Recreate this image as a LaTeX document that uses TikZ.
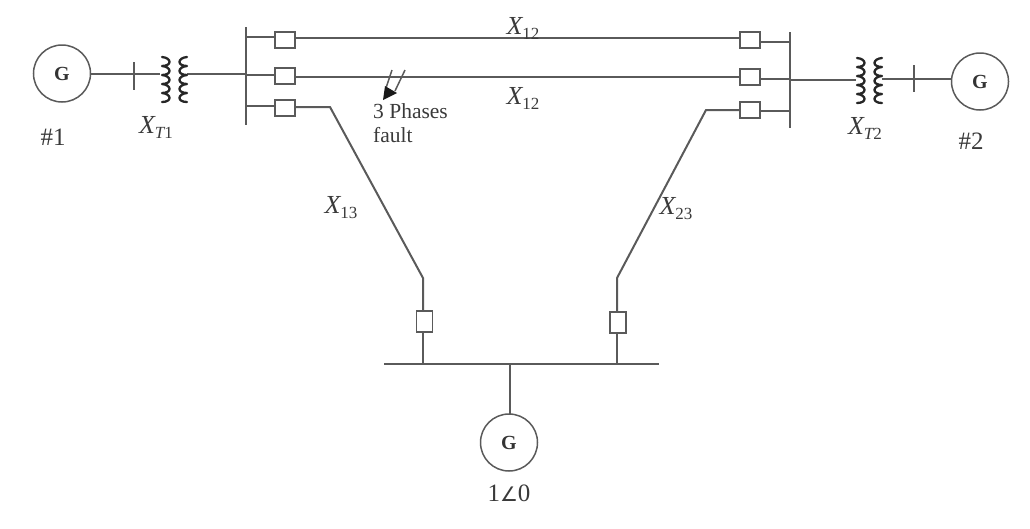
\documentclass[tikz,border=0pt]{standalone}
\usepackage{fontspec}
\setmainfont{Liberation Serif}
\newfontfamily\angfont{DejaVu Sans}
\definecolor{ln}{HTML}{5A5A5A}
\definecolor{tx}{HTML}{3A3A3A}
\tikzset{
  x=1pt,y=-1pt,
  wire/.style={draw=ln,line width=2pt},
  busbar/.style={draw=ln,line width=2pt},
  gen/.style={circle,draw=ln,line width=1.5pt,minimum size=57pt,inner sep=0pt,font=\fontsize{20}{20}\selectfont\bfseries,text=black!80},
  brk/.style={rectangle,draw=ln,line width=1.8pt,fill=white,minimum width=20pt,minimum height=16pt,inner sep=0pt},
  vbrk/.style={brk,minimum width=16pt,minimum height=21pt},
  lbl/.style={font=\fontsize{25}{27}\selectfont,text=tx,inner sep=0pt},
  xlbl/.style={font=\fontsize{26}{27}\selectfont\itshape,text=tx,inner sep=0pt},
  coil/.style={draw=black!85,line width=2.3pt,line cap=round,line join=round},
}
\newcommand{\xsub}[2]{X\raisebox{-5pt}{\fontsize{17}{17}\selectfont #1\upshape #2}}
\newcommand{\lcoil}[2]{%
  \draw[coil] (#1,#2) .. controls (#1+10,#2+1) and (#1+10,#2+9) .. (#1,#2+9)
   .. controls (#1+10,#2+10) and (#1+10,#2+18) .. (#1,#2+18)
   .. controls (#1+10,#2+19) and (#1+10,#2+27) .. (#1,#2+27)
   .. controls (#1+10,#2+28) and (#1+10,#2+36) .. (#1,#2+36)
   .. controls (#1+10,#2+37) and (#1+10,#2+45) .. (#1,#2+45);}
\newcommand{\rcoil}[2]{%
  \draw[coil] (#1,#2) .. controls (#1-10,#2+1) and (#1-10,#2+9) .. (#1,#2+9)
   .. controls (#1-10,#2+10) and (#1-10,#2+18) .. (#1,#2+18)
   .. controls (#1-10,#2+19) and (#1-10,#2+27) .. (#1,#2+27)
   .. controls (#1-10,#2+28) and (#1-10,#2+36) .. (#1,#2+36)
   .. controls (#1-10,#2+37) and (#1-10,#2+45) .. (#1,#2+45);}
\begin{document}
\begin{tikzpicture}
\useasboundingbox (0,0) rectangle (1030,528);
% generators
\node[gen] (g1) at (62,73.5) {G};
\node[gen] (g2) at (980,81.5) {G};
\node[gen] (g3) at (509,442.5) {G};
% breakers
\node[brk] (b11) at (285,40) {};
\node[brk] (b12) at (285,76) {};
\node[brk] (b13) at (285,108) {};
\node[brk] (b21) at (750,40) {};
\node[brk] (b22) at (750,77) {};
\node[brk] (b23) at (750,110) {};
\node[vbrk] (b31) at (424.5,321.5) {};
\node[vbrk] (b32) at (618,322.5) {};
% coordinates
\coordinate (bus1a) at (246,27);\coordinate (bus1b) at (246,125);
\coordinate (bus2a) at (790,32);\coordinate (bus2b) at (790,128);
\coordinate (bus3a) at (384,364);\coordinate (bus3b) at (659,364);
\coordinate (t1l) at (160,74);\coordinate (t1r) at (187,74);
\coordinate (t2l) at (856,80);\coordinate (t2r) at (882,79);
\coordinate (k1) at (330,107);\coordinate (k2) at (423,278);
\coordinate (k3) at (706,110);\coordinate (k4) at (617,278);
\coordinate (p11) at (246,37);\coordinate (p21) at (790,42);
\coordinate (p12) at (246,75);\coordinate (p22) at (790,79);
\coordinate (p13) at (246,106);\coordinate (p23) at (790,111);
\coordinate (m11) at (295,38);\coordinate (m21) at (740,38);
\coordinate (m12) at (295,77);\coordinate (m22) at (740,77);
% buses
\draw[busbar] (bus1a) -- (bus1b);
\draw[busbar] (bus2a) -- (bus2b);
\draw[busbar] (bus3a) -- (bus3b);
% generator ties
\draw[wire] (g1.east|-t1l) -- (t1l);
\draw[wire] (134,62) -- (134,90);
\draw[wire] (t1r) -- (t1r-|bus1a);
\draw[wire] (bus2a|-t2l) -- (t2l);
\draw[wire] (t2r) -- (g2.west|-t2r);
\draw[wire] (914,65) -- (914,92);
\draw[wire] (510,364) -- (510,414);
% coils
\lcoil{162}{57}\rcoil{187}{57}
\lcoil{857}{58}\rcoil{882}{58}
% lines
\draw[wire] (p11) -- (b11.west|-p11);
\draw[wire] (m11) -- (m21);
\draw[wire] (b21.east|-p21) -- (p21);
\draw[wire] (p12) -- (b12.west|-p12);
\draw[wire] (m12) -- (m22);
\draw[wire] (b22.east|-p22) -- (p22);
\draw[wire] (p13) -- (b13.west|-p13);
\draw[wire] (b13.east|-k1) -- (k1) -- (k2) -- (k2|-b31.north);
\draw[wire] (k2|-b31.south) -- (k2|-bus3a);
\draw[wire] (b23.east|-p23) -- (p23);
\draw[wire] (b23.west|-k3) -- (k3) -- (k4) -- (k4|-b32.north);
\draw[wire] (k4|-b32.south) -- (k4|-bus3a);
% fault
\coordinate (fa) at (392,70);\coordinate (fb) at (405,70);\coordinate (fc) at (383,100);
\draw[draw=ln,line width=1.5pt] (fa) -- (386,88);
\draw[draw=ln,line width=1.5pt] (fb) -- (395,91);
\fill[black!90] (fc) -- (385,86) -- (397,93) -- cycle;
% labels
\node[xlbl] at (523,28) {\xsub{}{12}};
\node[xlbl] at (523,98) {\xsub{}{12}};
\node[xlbl] at (156,127) {\xsub{\itshape T}{1}};
\node[xlbl] at (865,128) {\xsub{\itshape T}{2}};
\node[xlbl] at (341,208) {\xsub{}{13}};
\node[xlbl] at (676,209) {\xsub{}{23}};
\node[lbl] at (53,137) {\#1};
\node[lbl] at (971,141) {\#2};
\node[lbl] at (509,493) {1{\angfont\fontsize{20}{20}\selectfont ∠}0};
\node[lbl,font=\fontsize{21.5}{24}\selectfont,align=left,anchor=north west] at (373,103) {3 Phases\\fault};
\end{tikzpicture}
\end{document}
